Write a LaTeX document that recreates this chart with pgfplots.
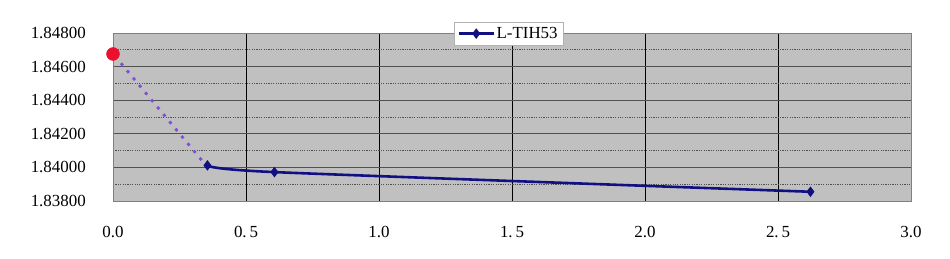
\documentclass[border=0pt]{standalone}
\usepackage{fontspec}
\setmainfont{Liberation Serif}
\usepackage{pgfplots}
\pgfplotsset{compat=1.18}
\definecolor{bggray}{RGB}{192,192,192}
\definecolor{navy}{RGB}{16,16,130}
\definecolor{dotpurple}{RGB}{125,80,215}
\definecolor{reddot}{RGB}{235,16,45}
\definecolor{gridgray}{RGB}{80,80,80}
\begin{document}
\begin{tikzpicture}
\useasboundingbox (0,0) rectangle (950bp,259bp);
\begin{axis}[
  at={(113bp,58bp)}, anchor=south west,
  scale only axis, width=798bp, height=168bp,
  xmin=0, xmax=3, ymin=1.838, ymax=1.848,
  axis background/.style={fill=bggray},
  axis line style={draw=gray, line width=0.8pt},
  xtick={0,0.5,1,1.5,2,2.5,3},
  xticklabels={0.0,0.\,5,1.0,1.\,5,2.0,2.\,5,3.0},
  ytick={1.838,1.840,1.842,1.844,1.846,1.848},
  minor ytick={1.839,1.841,1.843,1.845,1.847},
  major tick length=0pt, minor tick length=0pt,
  ymajorgrids, yminorgrids, xmajorgrids,
  y grid style={draw=gridgray, line width=0.9pt},
  minor y grid style={draw=gridgray, dash pattern=on 1.2pt off 1.2pt, line width=0.6pt},
  x grid style={draw=black, line width=0.7pt},
  /pgf/number format/assume math mode=true,
  yticklabel style={/pgf/number format/fixed, /pgf/number format/fixed zerofill, /pgf/number format/precision=5},
  yticklabel style={font=\fontsize{17}{19}\selectfont, inner sep=0pt, anchor=east, xshift=-27bp},
  xticklabel style={font=\fontsize{17}{19}\selectfont, inner sep=0pt, anchor=north, yshift=-25bp},
  scaled y ticks=false,
  legend style={at={(0.496,1.065)}, anchor=north, draw=gray!60, fill=white,
    font=\fontsize{17}{19}\selectfont, inner xsep=4pt, inner ysep=3pt, row sep=0pt,
    legend cell align=left},
  legend image code/.code={%
    \draw[mark repeat=2,mark phase=2] plot coordinates {(0bp,0bp)(17bp,0bp)(34bp,0bp)};},
  clip=false,
]
\addplot[dotpurple, line width=2.8pt, dash pattern=on 3pt off 6.5pt, forget plot]
  coordinates {(0.03,1.8462) (0.34,1.8403)};
\addplot[navy, line width=2.6pt, smooth, tension=0.4, mark=diamond*, mark size=4.5pt, mark options={fill=navy, line width=1pt}]
  coordinates {(0.355,1.84012) (0.607,1.83972) (2.622,1.83855)};
\addlegendentry{L-TIH53}
\addplot[only marks, mark=*, mark size=6.5bp, color=reddot, forget plot]
  coordinates {(0.0,1.84675)};
\end{axis}
\end{tikzpicture}
\end{document}
